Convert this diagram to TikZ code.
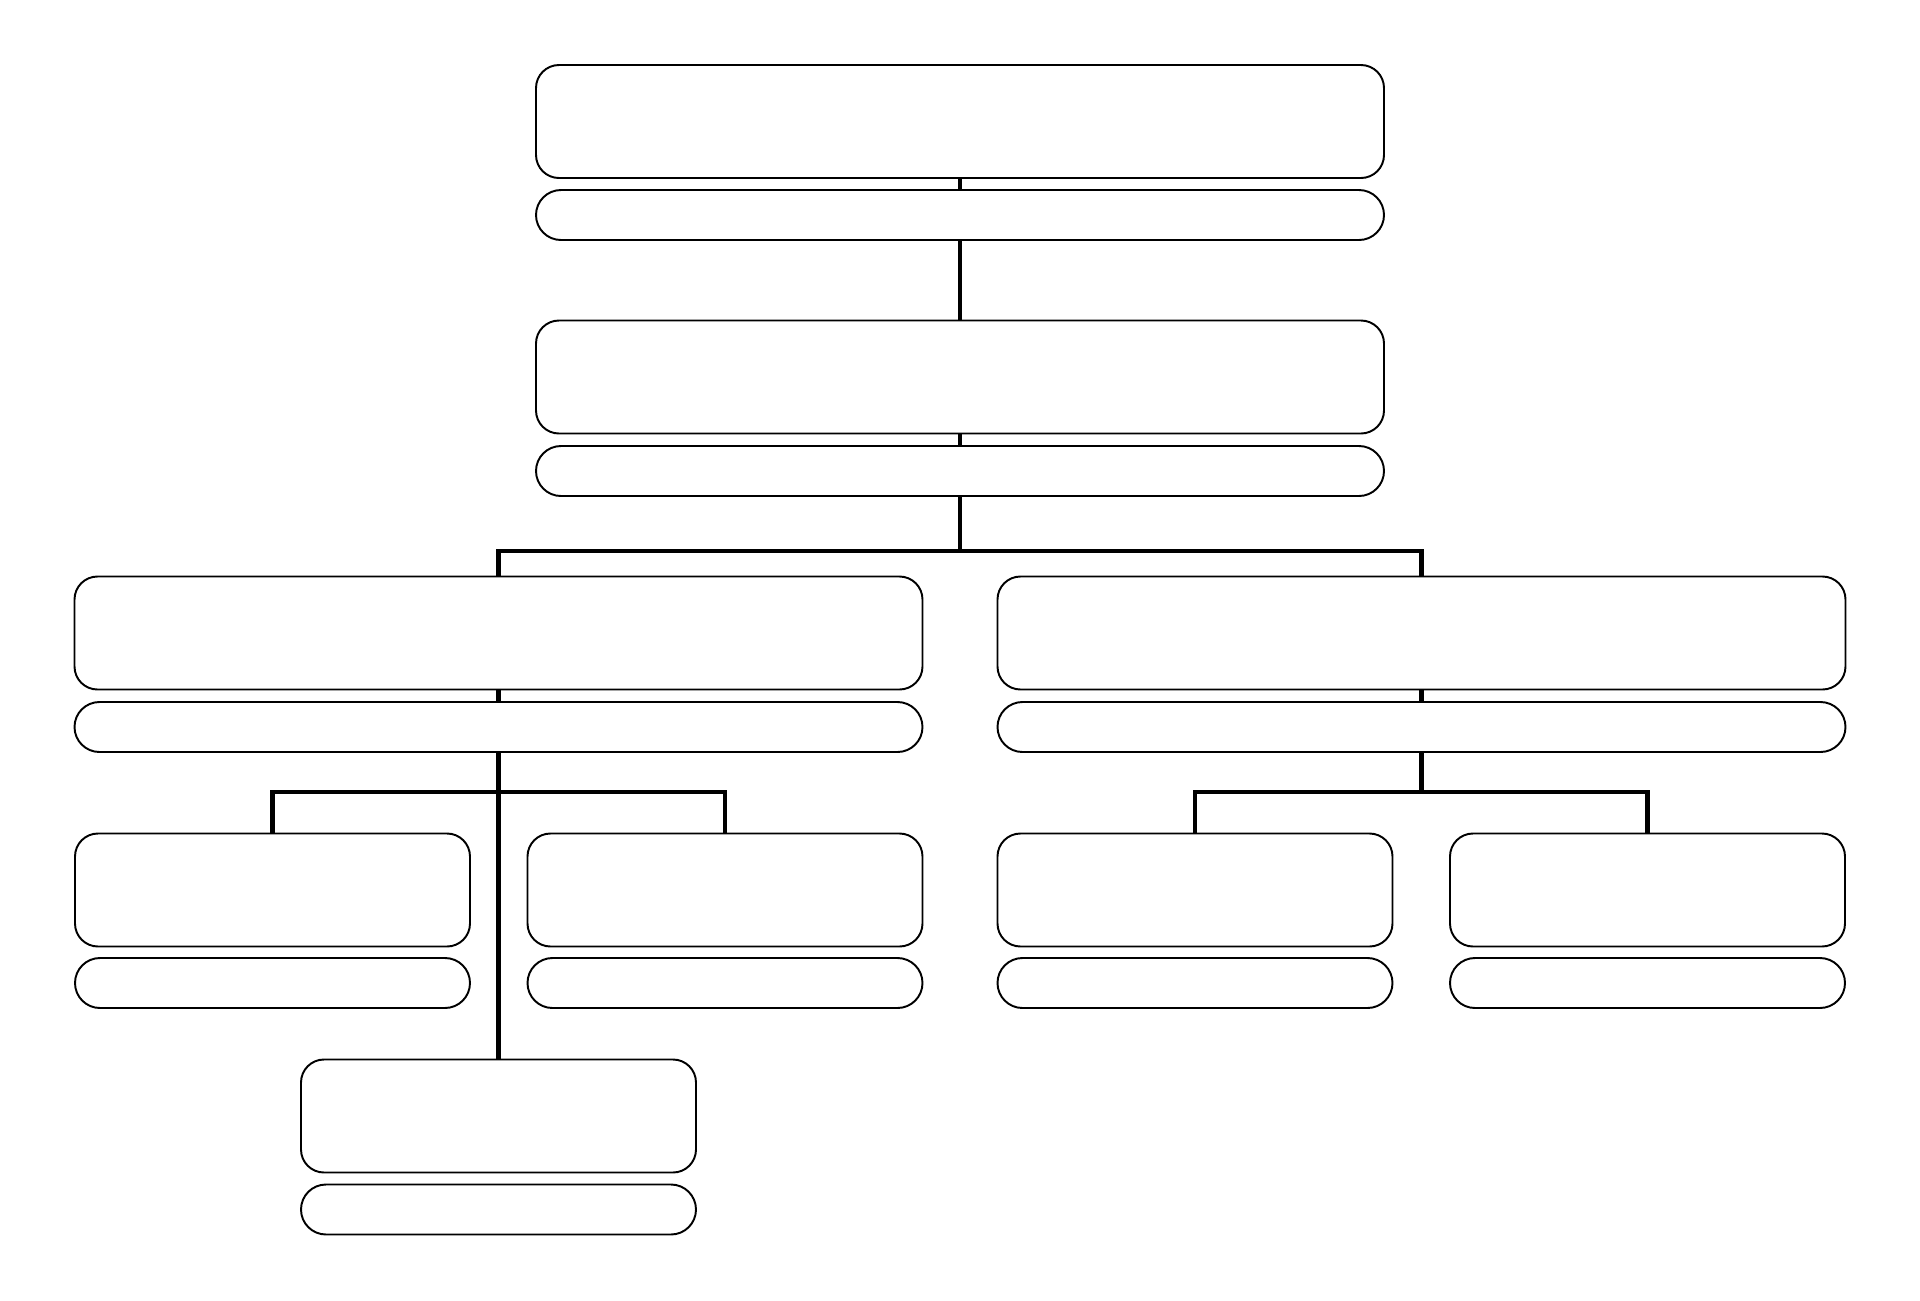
\documentclass[tikz,border=0pt]{standalone}
\usepackage{tikz}

\begin{document}
\begin{tikzpicture}[x=0.1mm,y=-0.1mm]
    \tikzstyle{bigbox}=[rectangle,draw,line width=0.55pt,rounded corners=2.3mm,inner sep=0pt,minimum width=84.8mm,minimum height=11.3mm]
	\tikzstyle{bigtag}=[rectangle,draw,line width=0.55pt,rounded corners=2.5mm,inner sep=0pt,minimum width=84.8mm,minimum height=5mm]
	\tikzstyle{smallbox}=[bigbox,minimum width=39.5mm]
	\tikzstyle{smalltag}=[bigtag,minimum width=39.5mm]
	\tikzstyle{link}=[line width=1.3pt]
	\useasboundingbox (0,0) rectangle (1920,1300);
	% top two levels
	\node (topbox) at (960,121.5) [bigbox] {};
	\node (toptag) at (960,215) [bigtag] {};
	\node (secbox) at (960,377) [bigbox] {};
	\node (sectag) at (960,471) [bigtag] {};
	% third level
	\node (leftbox)  at (498.5,633)  [bigbox] {};
	\node (lefttag)  at (498.5,727)  [bigtag] {};
	\node (rightbox) at (1421.5,633) [bigbox] {};
	\node (righttag) at (1421.5,727) [bigtag] {};
	% fourth level
	\node (boxa) at (272.5,890)  [smallbox] {};
	\node (taga) at (272.5,983)  [smalltag] {};
	\node (boxb) at (725,890)    [smallbox] {};
	\node (tagb) at (725,983)    [smalltag] {};
	\node (boxc) at (1195,890)   [smallbox] {};
	\node (tagc) at (1195,983)   [smalltag] {};
	\node (boxd) at (1647.5,890) [smallbox] {};
	\node (tagd) at (1647.5,983) [smalltag] {};
	\node (boxe) at (498.5,1116) [smallbox] {};
	\node (tage) at (498.5,1209.5) [smalltag] {};
	\coordinate (forkmid) at (960,551);
	\coordinate (forkleft) at (498.5,792);
	\coordinate (forkright) at (1421.5,792);
	\draw [link] (topbox.south) -- (toptag.north);
	\draw [link] (toptag.south) -- (secbox.north);
	\draw [link] (secbox.south) -- (sectag.north);
	\draw [link] (sectag.south) -- (forkmid);
	\draw [link] (leftbox.north) |- (forkmid) -| (rightbox.north);
	\draw [link] (leftbox.south) -- (lefttag.north);
	\draw [link] (rightbox.south) -- (righttag.north);
	\draw [link] (lefttag.south) -- (boxe.north);
	\draw [link] (boxa.north) |- (forkleft) -| (boxb.north);
	\draw [link] (righttag.south) -- (forkright);
	\draw [link] (boxc.north) |- (forkright) -| (boxd.north);
\end{tikzpicture}
\end{document}
